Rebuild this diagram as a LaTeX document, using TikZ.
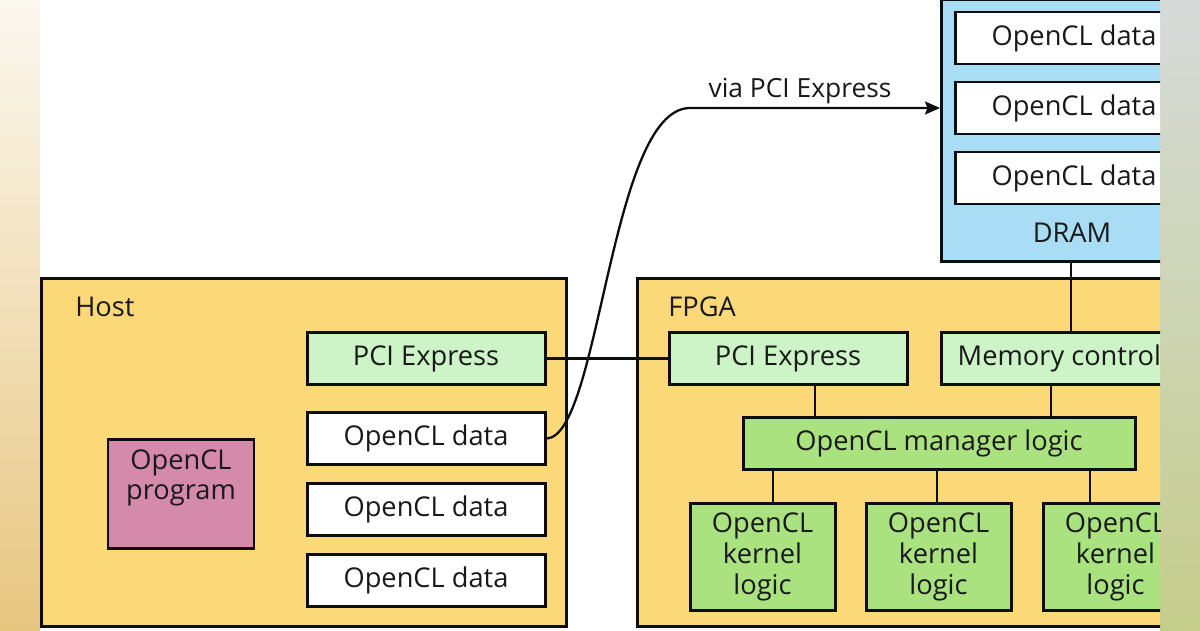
\documentclass[tikz,border=0pt]{standalone}
\usepackage{fontspec}
\setmainfont{Open Sans}
\usetikzlibrary{arrows.meta}
\definecolor{areayellow}{RGB}{252,217,120}
\definecolor{pcigreen}{RGB}{204,244,198}
\definecolor{logicgreen}{RGB}{170,226,128}
\definecolor{progpink}{RGB}{214,138,171}
\definecolor{dramblue}{RGB}{168,221,245}
\definecolor{leftTop}{RGB}{251,248,240}
\definecolor{leftBot}{RGB}{231,198,128}
\definecolor{rightTop}{RGB}{214,219,218}
\definecolor{rightBot}{RGB}{197,205,140}
\begin{document}
\begin{tikzpicture}[
  box/.style={draw=black!95, line width=1.7pt, text=black!90, font=\fontsize{15.5}{17.6}\selectfont, inner sep=0pt},
  wide/.style={box, minimum width=4.76cm, minimum height=1.04cm},
  pcibox/.style={wide, fill=pcigreen},
  databox/.style={wide, fill=white},
  kernelbox/.style={box, fill=logicgreen, minimum width=2.9cm, minimum height=2.14cm, align=center},
  area/.style={box, anchor=south west},
  tag/.style={text=black!90, font=\fontsize{15.5}{17.6}\selectfont, inner sep=0pt},
  link/.style={line width=1.3pt, black!95}
]
\useasboundingbox (0,0) rectangle (24,12.6);
\shade[top color=leftTop, bottom color=leftBot] (0,0) rectangle (0.8,12.6);
\shade[top color=rightTop, bottom color=rightBot] (23.2,0) rectangle (24,12.6);
\begin{scope}
\clip (0.8,0) rectangle (23.2,12.6);
\fill[white] (0.8,0) rectangle (23.2,12.6);

\node[area, fill=areayellow, minimum width=10.5cm, minimum height=6.96cm] (host) at (0.8,0.04) {};
\node[tag, anchor=west] (hostlbl) at (1.5,6.46) {Host};
\node[pcibox] (hpci) at (8.52,5.43) {PCI Express};
\node[databox] (hdata1) at (8.52,3.83) {OpenCL data};
\node[databox] (hdata2) at (8.52,2.41) {OpenCL data};
\node[databox] (hdata3) at (8.52,1.0) {OpenCL data};
\node[box, fill=progpink, minimum width=2.92cm, minimum height=2.18cm] (prog) at (3.62,2.73) {};
\node[tag, align=center, font=\fontsize{15.5}{17}\selectfont] (progtxt) at (3.62,3.04) {OpenCL\\program};

\node[area, fill=areayellow, minimum width=12cm, minimum height=6.96cm] (fpga) at (12.72,0.04) {};
\node[tag, anchor=west] (fpgalbl) at (13.36,6.46) {FPGA};
\node[pcibox] (fpci) at (15.76,5.43) {PCI Express};
\node[box, fill=pcigreen, minimum width=5.4cm, minimum height=1.04cm] (memctl) at (21.52,5.43) {Memory controller};
\node[box, fill=logicgreen, minimum width=7.84cm, minimum height=1.04cm] (mgr) at (18.78,3.74) {OpenCL manager logic};
\node[kernelbox] (kern1) at (15.25,1.47) {OpenCL\\kernel\\logic};
\node[kernelbox] (kern2) at (18.77,1.47) {OpenCL\\kernel\\logic};
\node[kernelbox] (kern3) at (22.31,1.47) {OpenCL\\kernel\\logic};

\node[area, fill=dramblue, minimum width=6cm, minimum height=5.24cm] (dram) at (18.8,7.34) {};
\node[databox] (ddata1) at (21.48,11.84) {OpenCL data};
\node[databox] (ddata2) at (21.48,10.44) {OpenCL data};
\node[databox] (ddata3) at (21.48,9.04) {OpenCL data};
\node[tag] (dramlbl) at (21.44,7.94) {DRAM};

\draw[link] (hpci.east) -- (fpci.west);
\draw[link] (16.3,0 |- fpci.south) -- (16.3,0 |- mgr.north);
\draw[link] (21.02,0 |- memctl.south) -- (21.02,0 |- mgr.north);
\draw[link] (21.42,0 |- dram.south) -- (21.42,0 |- memctl.north);
\draw[link] (15.46,0 |- mgr.south) -- (15.46,0 |- kern1.north);
\draw[link] (18.74,0 |- mgr.south) -- (18.74,0 |- kern2.north);
\draw[link] (21.8,0 |- mgr.south) -- (21.8,0 |- kern3.north);

\coordinate (bend) at (13.8,10.44);
\draw[link, -{Stealth[length=3mm, width=2.6mm, inset=0.5mm]}] (hdata1.east) .. controls (12.0,3.86) and (12.2,10.44) .. (bend) -- (dram.west |- ddata2.west);
\node[tag, font=\fontsize{15}{17}\selectfont] (vialbl) at (16.0,10.78) {via PCI Express};
\end{scope}
\end{tikzpicture}
\end{document}
